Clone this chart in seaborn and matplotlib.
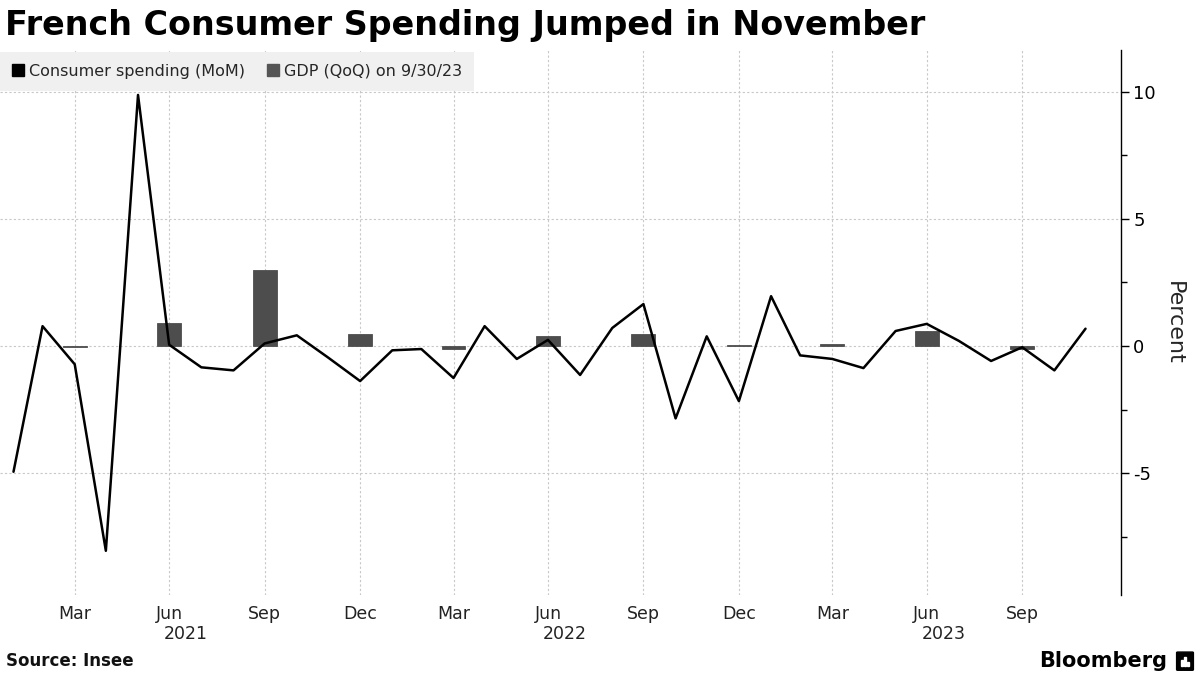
import pandas as pd
import seaborn as sns
import matplotlib.pyplot as plt
import matplotlib.dates as mdates
import matplotlib.transforms as mtrans
from matplotlib.patches import Patch, FancyBboxPatch, Rectangle

# monthly consumer spending, MoM %  (Jan 2021 .. Nov 2023)
months = pd.date_range('2021-01-01', periods=35, freq='MS') + pd.offsets.MonthEnd(0)
spending = [-4.95, 0.78, -0.72, -8.06, 9.88, 0.05, -0.84, -0.96, 0.10, 0.42, -0.45, -1.38,
            -0.17, -0.12, -1.26, 0.78, -0.51, 0.24, -1.14, 0.71, 1.65, -2.85, 0.38, -2.17,
            1.96, -0.37, -0.51, -0.87, 0.59, 0.87, 0.20, -0.59, -0.05, -0.96, 0.68]

# quarterly GDP, QoQ %  (Q1 2021 .. Q3 2023), dated at quarter end
quarters = pd.date_range('2021-03-01', periods=11, freq='3MS') + pd.offsets.MonthEnd(0)
gdp = [-0.05, 0.92, 2.99, 0.47, -0.10, 0.40, 0.47, 0.04, 0.08, 0.60, -0.10]

years = ['2021', '2022', '2023']

df = pd.DataFrame({'month': months, 'spending': spending})

sns.set_style('white')
plt.rcParams['font.family'] = ['DejaVu Sans']
plt.rcParams['axes.unicode_minus'] = False

fig = plt.figure(figsize=(12, 6.75), dpi=100)
ax = fig.add_axes([0.0, 0.1185, 0.934, 0.8075])

ax.bar(quarters, gdp, width=23, color='#4d4d4d', edgecolor='#4d4d4d', linewidth=0.6, zorder=2)
sns.lineplot(data=df, x='month', y='spending', color='black', lw=1.8, ax=ax, zorder=3)

ax.set_xlim(pd.Timestamp('2021-01-18'), pd.Timestamp('2024-01-03'))
ax.set_ylim(-9.8, 11.65)

# axes / spines
for s in ['top', 'left', 'bottom']:
    ax.spines[s].set_visible(False)
ax.spines['right'].set_color('black')
ax.spines['right'].set_linewidth(1.0)

ax.yaxis.tick_right()
ax.yaxis.set_label_position('right')
ax.set_yticks([-5, 0, 5, 10])
ax.set_yticks([-7.5, -2.5, 2.5, 7.5], minor=True)
ax.tick_params(axis='y', which='major', direction='out', length=6, width=1,
               color='black', labelsize=13, pad=3, labelcolor='black')
ax.tick_params(axis='y', which='minor', direction='out', length=4, width=1, color='black')
ax.set_ylabel('Percent', rotation=270, fontsize=16, labelpad=20)

ax.set_xticks(quarters)
ax.xaxis.set_major_formatter(mdates.DateFormatter('%b'))
ax.tick_params(axis='x', direction='out', length=3, width=0.8, color='#cccccc',
               labelsize=12.5, pad=4, labelcolor='#222222')
ax.set_xlabel('')

ax.grid(True, which='major', axis='both', color='#c8c8c8', linestyle=(0, (2, 2)), lw=0.8)
ax.set_axisbelow(True)

# year labels under June
trans = mtrans.blended_transform_factory(ax.transData, ax.transAxes)
for y in years:
    ax.text(pd.Timestamp(y + '-07-16'), -0.072, y, transform=trans, ha='center', va='center',
            fontsize=12.5, color='#222222')

# legend
handles = [Patch(color='black', label='Consumer spending (MoM)'),
           Patch(color='#555555', label='GDP (QoQ) on 9/30/23')]
leg = ax.legend(handles=handles, loc='upper left', bbox_to_anchor=(0.0, 0.997), ncol=2,
                frameon=True, fancybox=False, facecolor='#f0f0f0', edgecolor='none',
                framealpha=1, borderaxespad=0, handlelength=0.75, handleheight=0.75,
                handletextpad=0.3, columnspacing=1.4, fontsize=11.5, borderpad=0.75)
leg.get_frame().set_linewidth(0)

# title and footer
fig.text(0.004, 0.962, 'French Consumer Spending Jumped in November', fontsize=24,
         fontweight='bold', ha='left', va='center', color='black')
fig.text(0.005, 0.02, 'Source: Insee', fontsize=12, fontweight='bold', ha='left',
         va='center', color='#111111')
fig.text(0.973, 0.021, 'Bloomberg', fontsize=15, fontweight='bold', ha='right',
         va='center', color='black')
fig.patches.append(FancyBboxPatch((0.9815, 0.008), 0.012, 0.025, boxstyle='round,pad=0.001',
                                  transform=fig.transFigure, color='black', zorder=5))
for bx, bh in [(0.9843, 0.009), (0.9868, 0.014), (0.9893, 0.007)]:
    fig.patches.append(Rectangle((bx, 0.013), 0.0014, bh, transform=fig.transFigure,
                                 color='white', zorder=6))

plt.savefig('out.png', dpi=100)
